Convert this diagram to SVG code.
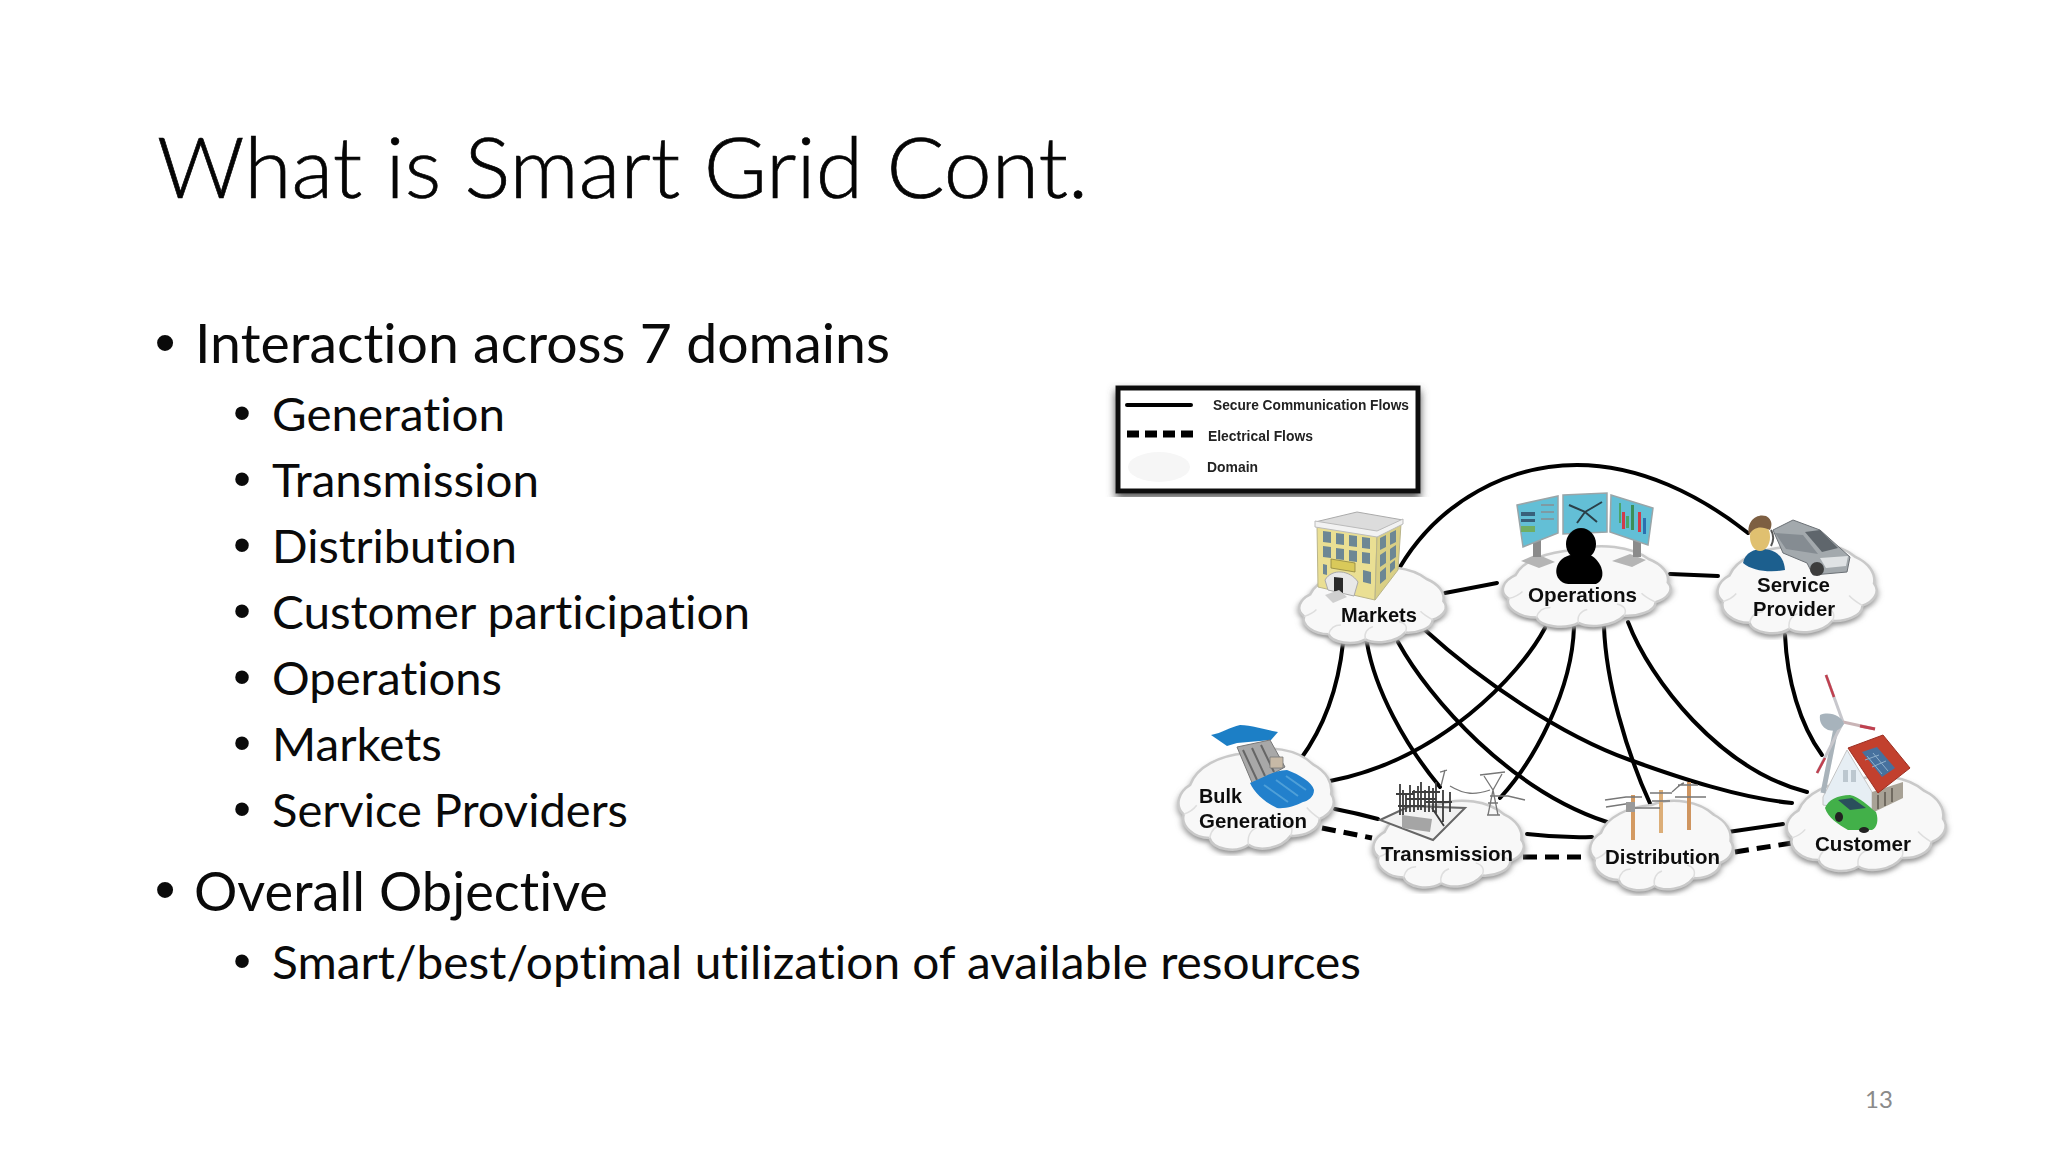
<svg xmlns="http://www.w3.org/2000/svg" width="2048" height="1152" viewBox="0 0 2048 1152">
<style>
text{font-family:"Liberation Sans",Arial,sans-serif;font-variant-ligatures:none}
.title{font-family:Lato,"Open Sans",sans-serif;font-weight:300;font-size:85px;fill:#050505;stroke:#050505;stroke-width:.7}
.l1{font-family:Lato,"Open Sans",sans-serif;font-size:54px;fill:#0a0a0a}
.l2{font-family:Lato,"Open Sans",sans-serif;font-size:46px;fill:#0a0a0a}
.b1{font-size:59px;text-anchor:middle;fill:#0a0a0a}
.b2{font-size:50px;text-anchor:middle;fill:#0a0a0a}
.pg{font-family:Lato,sans-serif;font-size:24px;fill:#8a8a8a}
.lab{font-weight:700;font-size:21px;fill:#111}
.leg{font-weight:700;font-size:14px;fill:#222}
.flow{fill:none;stroke:#050505;stroke-width:4;stroke-linecap:round}
.elec{fill:none;stroke:#050505;stroke-width:5;stroke-dasharray:14 8}
.cl{fill:#f8f8f8;stroke:#c9c9c9;stroke-width:2.5;vector-effect:non-scaling-stroke}
.cli{fill:none;stroke:#dedede;stroke-width:1.5;vector-effect:non-scaling-stroke}
.soft{filter:url(#soft)}
.wire{fill:none;stroke:#777;stroke-width:1.3}
.lat{fill:none;stroke:#3c3c3c;stroke-width:1.8}
.win{fill:#6d8794}
.mon{stroke:#9aa5a8;stroke-width:1.5;fill:#63bfd6}
.stand{fill:#8b8b8b}
.base{fill:#b5b5b5}
</style>
<defs>
<filter id="soft" x="-5%" y="-5%" width="110%" height="110%"><feGaussianBlur stdDeviation="0.7"/></filter>
<filter id="shadow" x="-10%" y="-10%" width="120%" height="125%"><feDropShadow dx="0" dy="3" stdDeviation="2" flood-color="#999"/></filter>
<filter id="boxsh" x="-5%" y="-10%" width="110%" height="130%"><feDropShadow dx="0" dy="5" stdDeviation="4" flood-color="#555"/></filter>
<symbol id="cloud" viewBox="0 0 100 100" preserveAspectRatio="none" overflow="visible">
<path class="cl" filter="url(#shadow)" d="M10,38 C14,22 28,12 44,10 C58,2 76,6 86,20 C94,26 98,36 97,46 C101,54 97,64 90,68 C90,78 80,84 72,83 C66,95 52,97 46,91 C38,99 24,95 22,85 C12,85 4,74 6,64 C0,56 3,44 10,38 Z"/>
<path class="cli" d="M22,85 C23,78 26,74 30,74 M46,91 C45,84 47,78 51,76 M72,83 C74,76 72,72 68,70 M90,68 C86,64 84,62 82,58 M6,64 C10,62 12,60 14,56"/>
</symbol>
</defs>
<rect width="2048" height="1152" fill="#fff"/>

<g id="slide-text">
<text class="title" x="157" y="198" textLength="931" lengthAdjust="spacingAndGlyphs">What is Smart Grid Cont.</text>
<text class="b1" x="165" y="363">•</text>
<text class="l1" x="195" y="363" textLength="695" lengthAdjust="spacingAndGlyphs">Interaction across 7 domains</text>
<text class="b2" x="242" y="430">•</text>
<text class="l2" x="272" y="431" textLength="233" lengthAdjust="spacingAndGlyphs">Generation</text>
<text class="b2" x="242" y="496">•</text>
<text class="l2" x="272" y="497" textLength="267" lengthAdjust="spacingAndGlyphs">Transmission</text>
<text class="b2" x="242" y="562">•</text>
<text class="l2" x="272" y="563" textLength="245" lengthAdjust="spacingAndGlyphs">Distribution</text>
<text class="b2" x="242" y="628">•</text>
<text class="l2" x="272" y="629" textLength="478" lengthAdjust="spacingAndGlyphs">Customer participation</text>
<text class="b2" x="242" y="694">•</text>
<text class="l2" x="272" y="695" textLength="230" lengthAdjust="spacingAndGlyphs">Operations</text>
<text class="b2" x="242" y="760">•</text>
<text class="l2" x="272" y="761" textLength="170" lengthAdjust="spacingAndGlyphs">Markets</text>
<text class="b2" x="242" y="826">•</text>
<text class="l2" x="272" y="827" textLength="356" lengthAdjust="spacingAndGlyphs">Service Providers</text>
<text class="b1" x="165" y="910">•</text>
<text class="l1" x="194" y="911" textLength="414" lengthAdjust="spacingAndGlyphs">Overall Objective</text>
<text class="b2" x="242" y="978">•</text>
<text class="l2" x="272" y="979" textLength="1089" lengthAdjust="spacingAndGlyphs">Smart/best/optimal utilization of available resources</text>
<text class="pg" x="1865" y="1108">13</text>
</g>

<g id="connectors" class="soft">
<path class="flow" d="M1400,567 C1440,500 1510,465 1577,465 C1640,465 1700,495 1748,533"/>
<path class="flow" d="M1445,593 L1497,583"/>
<path class="flow" d="M1670,574 L1718,576"/>
<path class="flow" d="M1785,635 C1787,680 1800,725 1822,755"/>
<path class="flow" d="M1343,643 C1338,690 1322,730 1300,760"/>
<path class="flow" d="M1367,643 C1375,690 1405,745 1440,787"/>
<path class="flow" d="M1398,642 C1430,700 1510,790 1607,822"/>
<path class="flow" d="M1425,630 C1480,680 1560,735 1630,760 C1680,778 1740,798 1792,803"/>
<path class="flow" d="M1545,628 C1520,675 1440,760 1330,781"/>
<path class="flow" d="M1574,627 C1572,690 1535,760 1500,798"/>
<path class="flow" d="M1604,627 C1606,680 1625,750 1652,808"/>
<path class="flow" d="M1628,622 C1650,680 1720,770 1807,792"/>
<path class="flow" d="M1335,809 Q1356,813 1378,819"/>
<path class="flow" d="M1527,834 Q1560,838 1592,837"/>
<path class="flow" d="M1728,832 L1783,824"/>
<path class="elec" d="M1322,828 L1372,838"/>
<path class="elec" d="M1523,857 L1587,857"/>
<path class="elec" d="M1735,852 L1792,843"/>
</g>

<g id="legend" class="soft">
<rect x="1118" y="388" width="300" height="103" fill="#fff" stroke="#111" stroke-width="5" filter="url(#boxsh)"/>
<path class="flow" d="M1127,405 H1191"/>
<path d="M1127,434 H1193" fill="none" stroke="#050505" stroke-width="7" stroke-dasharray="12 6"/>
<ellipse cx="1159" cy="467" rx="31" ry="15" fill="#f6f6f6"/>
<text class="leg" x="1213" y="410" textLength="196" lengthAdjust="spacingAndGlyphs">Secure Communication Flows</text>
<text class="leg" x="1208" y="441" textLength="105" lengthAdjust="spacingAndGlyphs">Electrical Flows</text>
<text class="leg" x="1207" y="472" textLength="51" lengthAdjust="spacingAndGlyphs">Domain</text>
</g>

<g id="node-markets" class="soft">
<use href="#cloud" x="1295" y="562" width="153" height="85"/>
<path d="M1315,522 L1357,512 L1403,520 L1377,532 Z" fill="#dcdcdc" stroke="#aaa"/>
<path d="M1317,526 L1377,536 L1375,600 L1318,587 Z" fill="#eadf93" stroke="#b9b48a" stroke-width="1"/>
<path d="M1377,536 L1401,524 L1398,570 L1375,600 Z" fill="#d9cf85" stroke="#b9b48a" stroke-width="1"/>
<path d="M1315,521 L1377,531 L1403,519 L1403,524 L1377,537 L1315,527 Z" fill="#f2f2f2" stroke="#bbb" stroke-width="1"/>
<g class="win">
<path d="M1323,531l8,1v11l-8,-1zM1336,533l8,1v11l-8,-1zM1349,535l8,1v11l-8,-1zM1362,537l8,1v11l-8,-1z"/>
<path d="M1323,546l8,1v11l-8,-1zM1336,548l8,1v11l-8,-1zM1349,550l8,1v11l-8,-1zM1362,552l8,1v11l-8,-1z"/>
<path d="M1363,570l8,2v12l-8,-2zM1323,564l4,1v10l-4,-1z"/>
<path d="M1380,538l6,-3v12l-6,3zM1390,533l6,-3v12l-6,3zM1380,555l6,-4v12l-6,4zM1390,549l6,-4v12l-6,4zM1380,572l6,-5v12l-6,5zM1390,564l5,-4v8l-5,5z"/>
</g>
<path d="M1331,559l24,4v9l-24,-4z" fill="#d9c95a" stroke="#8d8440" stroke-width=".8"/>
<path d="M1325,580 C1332,568 1350,570 1358,582 L1354,596 L1328,590 Z" fill="#e8e8e8" stroke="#aaa"/>
<path d="M1334,577l9,1v15l-9,-2z" fill="#2a2a2a"/>
<path d="M1325,595l14,-5 8,7 -14,6z" fill="#cfcfcf"/>
<text class="lab" x="1341" y="622" textLength="76" lengthAdjust="spacingAndGlyphs">Markets</text>
</g>

<g id="node-operations" class="soft">
<use href="#cloud" x="1498" y="541" width="175" height="90"/>
<path class="base" d="M1521,561 l16,-7 18,8 -16,6 z"/><rect class="stand" x="1533" y="540" width="8" height="17"/>
<path class="base" d="M1612,561 l18,-7 16,6 -14,7 z"/><rect class="stand" x="1633" y="540" width="8" height="17"/>
<path class="mon" d="M1517,505 L1558,496 V533 L1523,547 Z"/>
<path class="mon" d="M1563,495 L1607,493 V532 L1563,534 Z"/>
<path class="mon" d="M1611,495 L1653,508 L1648,545 L1610,532 Z"/>
<path d="M1521,512h14v4h-14zM1521,519h14v3h-14z" fill="#37607a"/><path d="M1521,526h14v6h-14z" fill="#6fae64"/>
<path d="M1541,505h13M1541,512h13M1541,519h13" stroke="#7e9aa3" stroke-width="2"/>
<path d="M1569,505 L1585,512 L1602,502 M1585,512 L1577,523 M1585,512 L1597,522" fill="none" stroke="#2a3f48" stroke-width="2"/>
<path d="M1619,503v20h2v-20zM1626,516v12h3v-12z" fill="#4aa56a"/><path d="M1622,512h3v17h-3zM1638,512h3v20h-3z" fill="#d03a4a"/><path d="M1631,505h3v25h-3z" fill="#3b8f58"/><path d="M1643,518h3v16h-3z" fill="#2c6fb0"/>
<ellipse cx="1581" cy="544" rx="15" ry="16" fill="#060606"/>
<path d="M1570,555 C1552,560 1552,582 1568,584 L1596,584 C1606,580 1604,564 1592,556 Z" fill="#060606"/>
<text class="lab" x="1528" y="602" textLength="109" lengthAdjust="spacingAndGlyphs">Operations</text>
</g>

<g id="node-service-provider" class="soft">
<use href="#cloud" x="1713" y="537" width="166" height="101"/>
<path d="M1773,530 L1793,520 L1820,530 L1850,557 L1847,572 L1813,575 L1807,563 L1783,553 Z" fill="#a3a9ad" stroke="#6b7075" stroke-width="1"/>
<path d="M1805,532 L1820,530 L1838,548 L1822,552 Z" fill="#5e666c"/>
<path d="M1775,533 L1803,535 L1818,554 L1786,549 Z" fill="#858c92"/>
<path d="M1820,558 L1848,556 L1846,566 L1826,568 Z" fill="#dfe2e4"/>
<ellipse cx="1817" cy="569" rx="7" ry="7" fill="#3d3d3d"/>
<path d="M1743,563 C1745,552 1755,549 1762,549 C1775,549 1784,556 1785,570 C1770,573 1752,571 1743,563 Z" fill="#1f5e8e"/>
<ellipse cx="1760" cy="537" rx="10" ry="14" fill="#e0c070"/>
<path d="M1749,535 C1746,522 1756,513 1766,516 C1773,520 1772,526 1770,530 C1762,526 1754,526 1749,535 Z" fill="#7d5f42"/>
<path d="M1771,530 C1774,535 1774,540 1771,546" fill="none" stroke="#555" stroke-width="2"/>
<text class="lab" x="1757" y="592" textLength="73" lengthAdjust="spacingAndGlyphs">Service</text>
<text class="lab" x="1753" y="616" textLength="82" lengthAdjust="spacingAndGlyphs">Provider</text>
</g>

<g id="node-bulk-generation" class="soft">
<use href="#cloud" x="1174" y="742" width="162" height="113"/>
<path d="M1211,735 C1222,733 1230,727 1240,725 C1252,725 1266,730 1278,732 L1271,740 L1237,743 L1227,746 Z" fill="#1f7fc6"/>
<path d="M1237,747 L1270,740 L1285,767 L1253,785 Z" fill="#a8a8a8" stroke="#777" stroke-width="1"/>
<path d="M1243,750 L1257,780 M1252,748 L1265,776 M1261,745 L1274,772" stroke="#666" stroke-width="2"/>
<path d="M1270,757 h13 v11 h-13 z" fill="#c7b9a6" stroke="#777" stroke-width=".8"/>
<path d="M1250,783 C1262,778 1275,770 1287,770 C1300,775 1312,782 1314,790 C1314,797 1308,801 1303,802 C1295,806 1285,809 1277,808 C1264,802 1254,792 1250,783 Z" fill="#2180cc"/>
<path d="M1264,785 L1288,802 M1276,780 L1298,796 M1286,776 L1306,790" stroke="#4f9fd8" stroke-width="2"/>
<text class="lab" x="1199" y="803" textLength="43" lengthAdjust="spacingAndGlyphs">Bulk</text>
<text class="lab" x="1199" y="828" textLength="108" lengthAdjust="spacingAndGlyphs">Generation</text>
</g>

<g id="node-transmission" class="soft">
<use href="#cloud" x="1369" y="795" width="157" height="97"/>
<path d="M1380,820 L1410,806 L1465,808 L1433,840 Z" fill="#f2f2f2" stroke="#666" stroke-width="2"/>
<path d="M1402,815 L1432,819 L1430,832 L1402,828 Z" fill="#a5a5a5"/>
<path class="lat" d="M1400,784 V815 M1403,790 V815 M1406,795 V812 M1410,785 V812 M1414,790 V812 M1418,786 V810 M1421,782 V810 M1425,790 V812 M1429,786 V812 M1433,788 V812 M1436,782 V815 M1443,790 V822 M1450,792 V812 M1396,794 H1414 M1412,792 H1440 M1426,802 H1452 M1398,806 H1424 M1406,799 H1436 M1432,808 L1444,826"/>
<path class="wire" d="M1440,772 L1447,770 M1445,770 L1441,786 M1450,786 C1465,795 1475,795 1490,790 M1480,775 L1505,772 M1484,776 L1493,790 L1502,774 M1493,790 L1488,815 M1493,790 L1498,815 M1488,803 L1498,803 M1490,796 H1508 L1525,800 M1487,815 H1500"/>
<text class="lab" x="1381" y="861" textLength="132" lengthAdjust="spacingAndGlyphs">Transmission</text>
</g>

<g id="node-distribution" class="soft">
<use href="#cloud" x="1586" y="795" width="149" height="100"/>
<rect x="1631" y="795" width="4" height="45" fill="#d39a62"/>
<rect x="1659" y="790" width="4" height="43" fill="#dcae78"/>
<rect x="1687" y="782" width="4" height="48" fill="#cf9560"/>
<path class="wire" d="M1605,800 L1626,797 H1642 M1606,807 L1632,803 M1650,793 H1672 M1652,801 H1670 M1675,797 H1706 M1678,785 H1698 M1672,792 C1678,787 1680,784 1684,783 M1633,808 L1660,808"/>
<rect x="1626" y="802" width="9" height="10" fill="#9a9a9a"/>
<text class="lab" x="1605" y="864" textLength="115" lengthAdjust="spacingAndGlyphs">Distribution</text>
</g>

<g id="node-customer" class="soft">
<use href="#cloud" x="1782" y="770" width="166" height="106"/>
<path d="M1823,797 L1847,750 L1872,792 V813 L1823,805 Z" fill="#e6eef4" stroke="#c5c5c5" stroke-width="1"/>
<path d="M1872,792 L1903,782 V798 L1872,813 Z" fill="#a8a296"/>
<path d="M1878,795v14M1885,792v14M1892,788v14" stroke="#6f6a60" stroke-width="2"/>
<path d="M1843,770v12h5v-12zM1851,770v12h5v-12z" fill="#bcc7cf"/>
<path d="M1823,793 L1837,723" stroke="#a9b3ba" stroke-width="5"/>
<path d="M1843,722 L1826,675" stroke="#c7c7cc" stroke-width="3"/>
<path d="M1826,675 L1834,697" stroke="#c04050" stroke-width="2.5"/>
<path d="M1843,722 L1875,729" stroke="#c9b4b6" stroke-width="3"/>
<path d="M1860,726 L1875,729" stroke="#c04050" stroke-width="3"/>
<path d="M1843,722 L1817,773" stroke="#c7c7cc" stroke-width="3"/>
<path d="M1825,758 L1817,773" stroke="#c04050" stroke-width="2.5"/>
<path d="M1820,715 C1830,711 1842,716 1844,724 C1840,730 1836,732 1828,730 C1822,727 1819,722 1820,715 Z" fill="#a7b3bc"/>
<path d="M1848,748 L1883,735 L1910,768 L1878,793 Z" fill="#c2402f" stroke="#9b2f22" stroke-width="1"/>
<path d="M1862,752 L1877,747 L1895,768 L1882,777 Z" fill="#47719e"/>
<path d="M1867,756l15,18M1873,753l15,18M1865,760l14,-5M1872,767l14,-6" stroke="#8fb0cc" stroke-width="1"/>
<path d="M1825,808 C1828,800 1838,795 1850,795 C1860,797 1868,806 1876,812 C1879,820 1877,828 1872,830 L1848,830 C1838,824 1828,818 1825,808 Z" fill="#43b04a"/>
<path d="M1838,800 L1852,798 L1866,808 L1850,810 Z" fill="#2c4f5c"/>
<ellipse cx="1839" cy="817" rx="4" ry="5" fill="#222"/><ellipse cx="1864" cy="830" rx="5" ry="3" fill="#222"/>
<text class="lab" x="1815" y="851" textLength="96" lengthAdjust="spacingAndGlyphs">Customer</text>
</g>
</svg>
